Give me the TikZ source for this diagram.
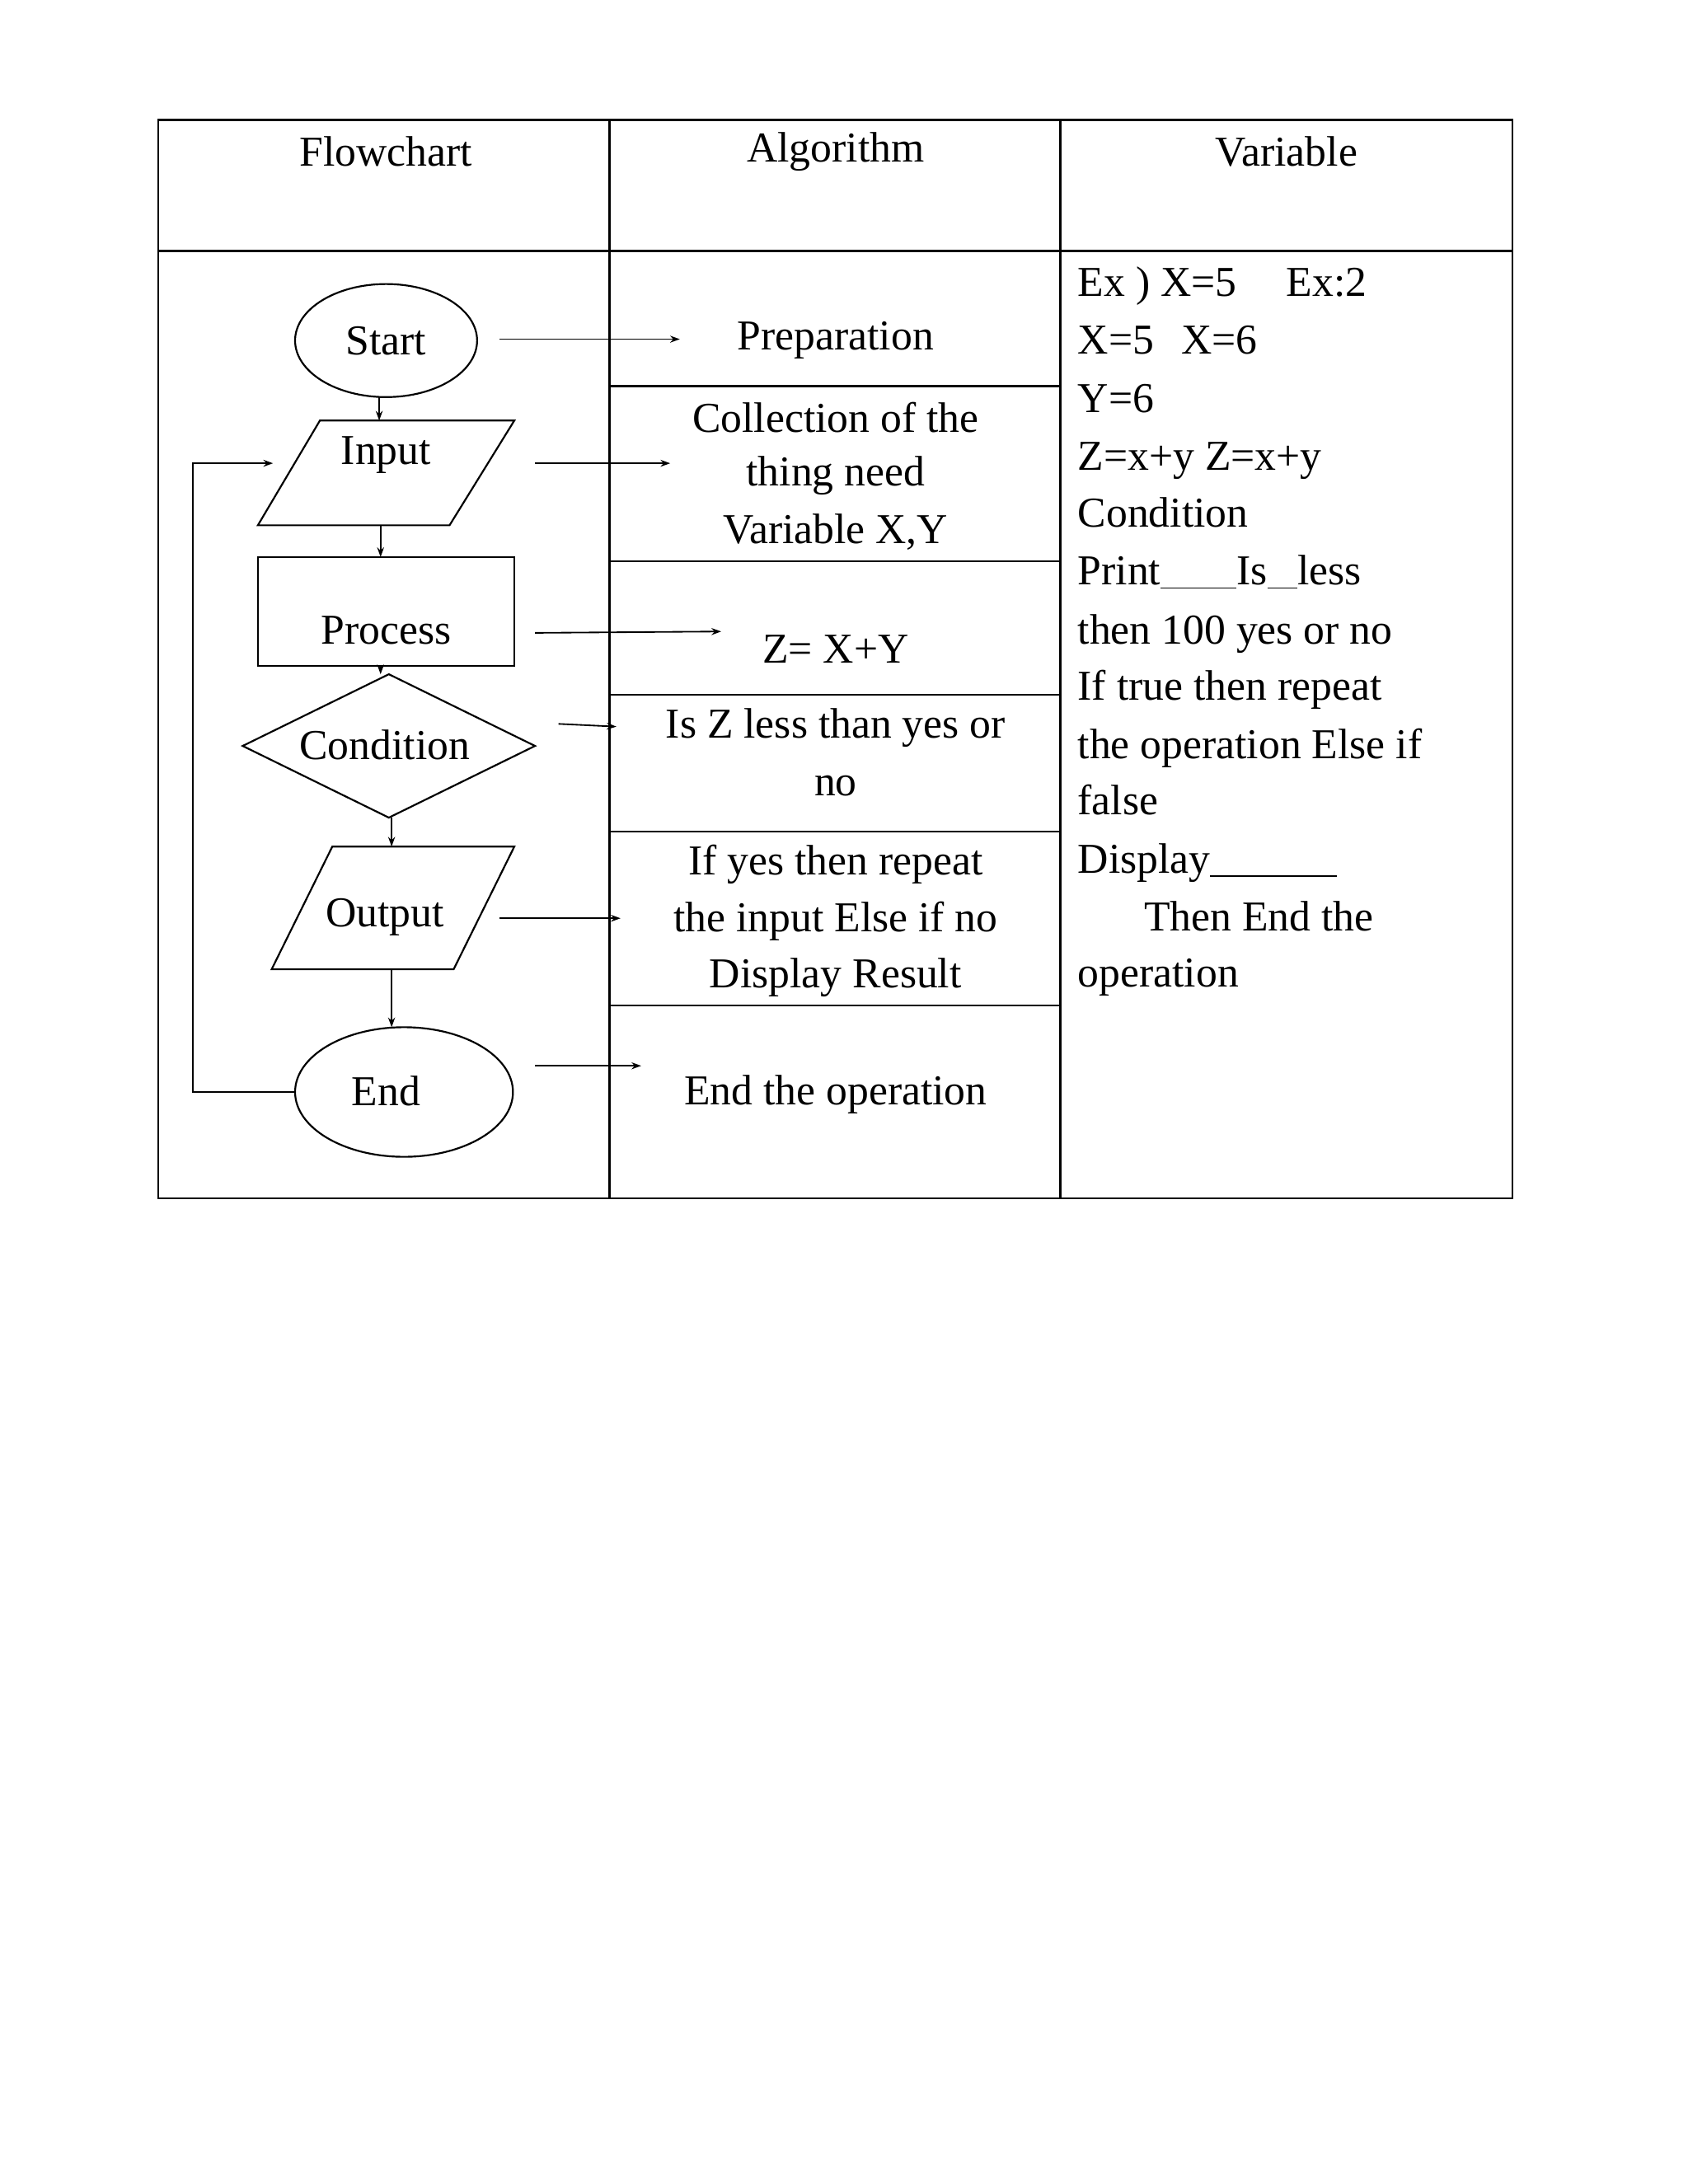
\documentclass[tikz,border=0pt]{standalone}
\usepackage{fontspec}
\setmainfont{Liberation Serif}
\usetikzlibrary{shapes.geometric,arrows.meta}
\begin{document}
\begin{tikzpicture}[x=1bp,y=-1bp,line width=1.3bp,
  txt/.style={font=\fontsize{31}{38}\selectfont,inner sep=0pt},
  arr/.style={-{Stealth[length=7bp,width=5bp]},line width=1.1bp}]
\useasboundingbox (0,0) rectangle (1224,1584);
% table
\draw (115,87) rectangle (1097,869);
\draw (115,182) -- (1097,182);
\draw (442,87) -- (442,869);
\draw (769,87) -- (769,869);
\foreach \y in {280,407,504,603,729} \draw (442,\y) -- (769,\y);
% headers
\node[txt] (h1) at (280,110) {Flowchart};
\node[txt] (h2) at (606,110) {Algorithm};
\node[txt] (h3) at (933,110) {Variable};
% flowchart shapes
\node[draw,ellipse,minimum width=132bp,minimum height=82bp,txt] (start) at (280,247) {Start};
\coordinate (i1) at (232,305);\coordinate (i2) at (373,305);\coordinate (i3) at (326,381);\coordinate (i4) at (187,381);
\draw (i1)--(i2)--(i3)--(i4)--cycle;
\node[txt] (input) at (280,330) {Input};
\node[draw,minimum width=186bp,minimum height=79bp,inner sep=0pt] (proc) at (280,443.5) {};
\node[txt] (proct) at (280,457) {Process};
\coordinate (d1) at (176,541);\coordinate (d2) at (282,489);\coordinate (d3) at (388,541);\coordinate (d4) at (282,593);
\draw (d1)--(d2)--(d3)--(d4)--cycle;
\node[txt] (cond) at (279,540) {Condition};
\coordinate (o1) at (241,614);\coordinate (o2) at (373,614);\coordinate (o3) at (329,703);\coordinate (o4) at (197,703);
\draw (o1)--(o2)--(o3)--(o4)--cycle;
\node[txt] (out) at (279,665) {Output};
\node[draw,ellipse,minimum width=158bp,minimum height=94bp,txt] (end) at (293,792) {};
\node[txt] (endt) at (280,791) {End};
% flowchart arrows
\draw[arr] (275,288) -- (275,305);
\draw[arr] (276,381) -- (276,404);
\draw[arr] (276,483) -- (276,489);
\draw[arr] (284,593) -- (284,614);
\draw[arr] (284,703) -- (284,745);
\draw[arr] (end.west) -- (140,792) -- (140,336) -- (198,336);
% horizontal arrows
\draw[arr] (362,246) -- (493,246);
\draw[arr] (388,336) -- (486,336);
\draw[arr] (388,459) -- (523,458);
\draw[arr] (405,525) -- (447,527);
\draw[arr] (362,666) -- (450,666);
\draw[arr] (388,773) -- (465,773);
% algorithm texts
\node[txt] (a1) at (606,247) {Preparation};
\node[txt] (a2a) at (606,303) {Collection of the};
\node[txt] (a2b) at (606,345) {thing need};
\node[txt] (a2c) at (606,386) {Variable X,Y};
\node[txt] (a3) at (606,471) {Z= X+Y};
\node[txt] (a4a) at (606,528) {Is Z less than yes or};
\node[txt] (a4b) at (606,570) {no};
\node[txt] (a5a) at (606,627) {If yes then repeat};
\node[txt] (a5b) at (606,668) {the input Else if no};
\node[txt] (a5c) at (606,709) {Display Result};
\node[txt] (a6) at (606,794) {End the operation};
% variable texts
\foreach \t/\y [count=\i] in {
 {Ex ) X=5\hspace{36bp}Ex:2}/205,
 {X=5\hspace{20bp}X=6}/247,
 {Y=6}/289,
 {Z=x+y Z=x+y}/331,
 {Condition}/372,
 {Print\rule[-3bp]{55bp}{1bp}Is\rule[-3bp]{22bp}{1bp}less}/414,
 {then 100 yes or no}/457,
 {If true then repeat}/498,
 {the operation Else if}/540,
 {false}/581,
 {Display\rule[-3bp]{92bp}{1bp}}/623,
 {\hspace{48bp}Then End the}/665,
 {operation}/706}
 \node[txt,anchor=base west] (v\i) at (781,\y+10) {\t};
\end{tikzpicture}
\end{document}
